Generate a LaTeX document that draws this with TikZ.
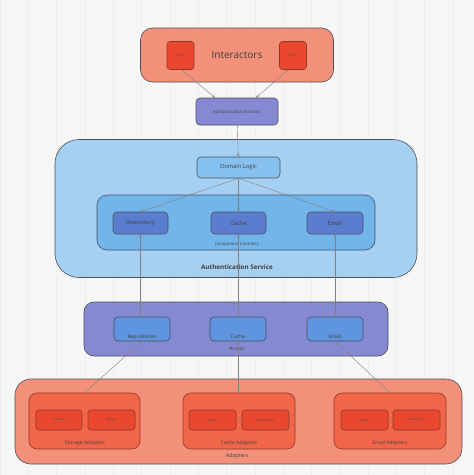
\documentclass[tikz,border=0pt]{standalone}
\usepackage{fontspec}
\setmainfont{Open Sans}
\usepackage{tikz}
\usetikzlibrary{arrows}
\definecolor{bgpaper}{HTML}{F6F6F6}
\definecolor{gridline}{HTML}{EEEEEE}
\definecolor{salmon}{HTML}{F39079}
\definecolor{redgroup}{HTML}{F16649}
\definecolor{redleaf}{HTML}{E9482E}
\definecolor{redborder}{HTML}{8E3A2A}
\definecolor{violet}{HTML}{8589D2}
\definecolor{skyout}{HTML}{A6D0F2}
\definecolor{skymid}{HTML}{72B5EA}
\definecolor{skylogic}{HTML}{85C0EE}
\definecolor{indigo}{HTML}{5B7DD0}
\definecolor{azure}{HTML}{5E95DE}
\definecolor{edgegray}{HTML}{4A4F5C}
\tikzstyle{outer} = [rectangle, rounded corners=12pt, draw=edgegray, line width=0.6pt, inner sep=0pt]
\tikzstyle{leafred} = [rectangle, rounded corners=3pt, draw=redborder, line width=0.6pt, fill=redleaf, inner sep=0pt, font=\fontsize{3}{4}\selectfont, text=black!70]
\tikzstyle{groupred} = [rectangle, rounded corners=8pt, draw=redborder, line width=0.6pt, fill=redgroup, inner sep=0pt]
\tikzstyle{bluebox} = [rectangle, rounded corners=4pt, draw=edgegray, line width=0.6pt, inner sep=0pt, text=black!75]
\tikzstyle{label} = [text=black!75, inner sep=0pt]
\tikzstyle{arrow} = [->, >=stealth, draw=black!50, line width=0.4pt]

\begin{document}
\begin{tikzpicture}[x=1pt, y=-1pt]
\useasboundingbox (0,0) rectangle (474,475);
\fill[bgpaper] (0,0) rectangle (474,475);
\draw[gridline, line width=0.4pt, step=28.3] (0,0) grid (474,475);

% interactors
\node (interactors) [outer, fill=salmon, minimum width=193pt, minimum height=54pt] at (237,55) {};
\node (interLabel) [label, font=\fontsize{10}{12}\selectfont] at (237,55) {Interactors};
\node (http) [leafred, minimum width=27pt, minimum height=28pt] at (180.5,55.5) {HTTP};
\node (grpc) [leafred, minimum width=27pt, minimum height=28pt] at (293,55.5) {GRPC};
\node (contract) [bluebox, fill=violet, minimum width=82pt, minimum height=27pt, font=\fontsize{4.3}{5}\selectfont] at (237,111.5) {Authentication Contract};
\draw [arrow] (182,70) -- (contract.north west -| 215,0);
\draw [arrow] (288,70) -- (contract.north west -| 256,0);

% authentication service
\node (service) [outer, rounded corners=24pt, fill=skyout, minimum width=362pt, minimum height=138pt] at (236,208.5) {};
\node (serviceLabel) [label, font=\fontsize{6.3}{8}\selectfont\bfseries] at (237,267) {Authentication Service};
\node (logic) [bluebox, fill=skylogic, minimum width=83pt, minimum height=21pt, font=\fontsize{5.8}{7}\selectfont] at (238.5,167.5) {Domain Logic};
\draw [arrow] (contract) -- (logic);
\node (contracts) [outer, rounded corners=10pt, fill=skymid, minimum width=278pt, minimum height=55pt] at (236,222.5) {};
\node (contractsLabel) [label, font=\fontsize{4.3}{5}\selectfont] at (237,244.5) {Component Contracts};
\node (repository) [bluebox, fill=indigo, minimum width=55pt, minimum height=22pt, font=\fontsize{5.8}{7}\selectfont] at (140.5,223) {Repository};
\node (cache) [bluebox, fill=indigo, minimum width=55pt, minimum height=22pt, font=\fontsize{5.8}{7}\selectfont] at (238.5,223) {Cache};
\node (email) [bluebox, fill=indigo, minimum width=56pt, minimum height=22pt, font=\fontsize{5.8}{7}\selectfont] at (335,223) {Email};
\draw [arrow] (logic.south) -- (repository.north);
\draw [arrow] (logic.south) -- (cache.north);
\draw [arrow] (logic.south) -- (email.north);

% access
\node (access) [outer, rounded corners=10pt, fill=violet, minimum width=304pt, minimum height=54pt] at (236,329) {};
\node (accessLabel) [label, font=\fontsize{5}{6}\selectfont] at (237,349) {Access};
\node (repositories) [bluebox, fill=azure, minimum width=56pt, minimum height=24pt] at (142,329) {};
\node (accessCache) [bluebox, fill=azure, minimum width=56pt, minimum height=24pt] at (238,329) {};
\node (accessEmail) [bluebox, fill=azure, minimum width=56pt, minimum height=24pt] at (335,329) {};
\node [label, font=\fontsize{5}{6}\selectfont] at (142,337) {Repositories};
\node [label, font=\fontsize{5}{6}\selectfont] at (238,337) {Cache};
\node [label, font=\fontsize{5}{6}\selectfont] at (335,337) {Email};
\draw [arrow] (repositories.north -| repository.south) -- (repository.south);
\draw [arrow] (accessCache.north -| cache.south) -- (cache.south);
\draw [arrow] (accessEmail.north -| email.south) -- (email.south);

% adapters
\node (adapters) [outer, rounded corners=16pt, fill=salmon, minimum width=447pt, minimum height=85pt] at (238.5,421.5) {};
\node (adaptersLabel) [label, font=\fontsize{5.3}{6}\selectfont] at (237,456) {Adapters};
\node (storage) [groupred, minimum width=111pt, minimum height=56pt] at (84.5,421) {};
\node (cacheAd) [groupred, minimum width=112pt, minimum height=56pt] at (239,421) {};
\node (emailAd) [groupred, minimum width=112pt, minimum height=56pt] at (390,421) {};
\node [label, font=\fontsize{5}{6}\selectfont] at (85,443) {Storage Adapters};
\node [label, font=\fontsize{5}{6}\selectfont] at (239,443) {Cache Adapters};
\node [label, font=\fontsize{5}{6}\selectfont] at (390,443) {Email Adapters};
\node (postgres) [leafred, minimum width=46pt, minimum height=20pt] at (59,420) {Postgres};
\node (mongo) [leafred, minimum width=47pt, minimum height=20pt] at (111.5,420) {Mongo};
\node (redis) [leafred, minimum width=47pt, minimum height=20pt] at (212.5,420) {Redis};
\node (memcached) [leafred, minimum width=47pt, minimum height=20pt] at (265.5,420) {Memcached};
\node (smtp) [leafred, minimum width=47pt, minimum height=20pt] at (364.5,420) {SMTP};
\node (mailchimp) [leafred, minimum width=47pt, minimum height=20pt] at (416.5,420) {Mailchimp};
\draw [arrow] (storage.north) -- (repositories.south);
\draw [arrow] (cacheAd.north -| accessCache.south) -- (accessCache.south);
\draw [arrow] (emailAd.north) -- (accessEmail.south);

\end{tikzpicture}
\end{document}
